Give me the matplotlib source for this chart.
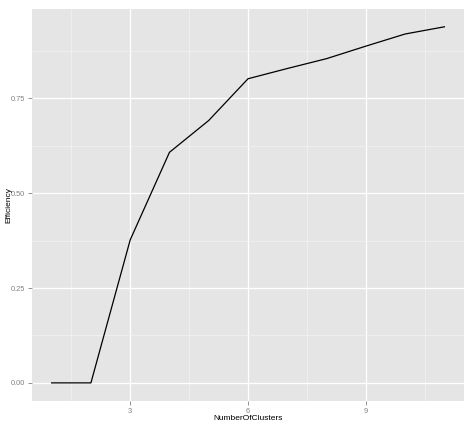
import matplotlib
matplotlib.use("Agg")
import matplotlib.pyplot as plt
from matplotlib.ticker import FixedLocator

# data
clusters = [1, 2, 3, 4, 5, 6, 7, 8, 9, 10, 11]
efficiency = [0.0, 0.0, 0.377, 0.608, 0.692, 0.802, 0.829, 0.855, 0.888, 0.920, 0.939]

x_ticks = [3, 6, 9]
y_ticks = [0.00, 0.25, 0.50, 0.75]
x_minor = [1.5, 4.5, 7.5, 10.5]
y_minor = [0.125, 0.375, 0.625, 0.875]

plt.rcParams['font.family'] = ['Liberation Sans', 'DejaVu Sans']

fig = plt.figure(figsize=(4.74, 4.26), dpi=100)
ax = fig.add_axes([0.0675, 0.0594, 0.9115, 0.9195])
ax.set_facecolor('#E5E5E5')

ax.plot(clusters, efficiency, color='black', linewidth=0.9, zorder=3)

# ggplot style expansion (5%)
xr = max(clusters) - min(clusters)
ax.set_xlim(min(clusters) - 0.05 * xr, max(clusters) + 0.05 * xr)
yr = max(efficiency) - min(efficiency)
ax.set_ylim(min(efficiency) - 0.05 * yr, max(efficiency) + 0.05 * yr)

ax.xaxis.set_major_locator(FixedLocator(x_ticks))
ax.yaxis.set_major_locator(FixedLocator(y_ticks))
ax.xaxis.set_minor_locator(FixedLocator(x_minor))
ax.yaxis.set_minor_locator(FixedLocator(y_minor))
ax.set_xticklabels([str(t) for t in x_ticks])
ax.set_yticklabels([f"{t:.2f}" for t in y_ticks])

ax.grid(which='major', color='white', linewidth=0.9, zorder=1)
ax.grid(which='minor', color='#F2F2F2', linewidth=0.5, zorder=1)
ax.set_axisbelow(True)

for s in ax.spines.values():
    s.set_visible(False)

ax.tick_params(which='major', length=3, width=0.6, color='#808080',
               labelcolor='#808080', labelsize=5.3, pad=2)
ax.tick_params(which='minor', length=0)

ax.set_xlabel("NumberOfClusters", fontsize=6, labelpad=0.5)
ax.set_ylabel("Efficiency", fontsize=6)
ax.yaxis.set_label_coords(-0.046, 0.5)

fig.savefig("out.png", dpi=100)
